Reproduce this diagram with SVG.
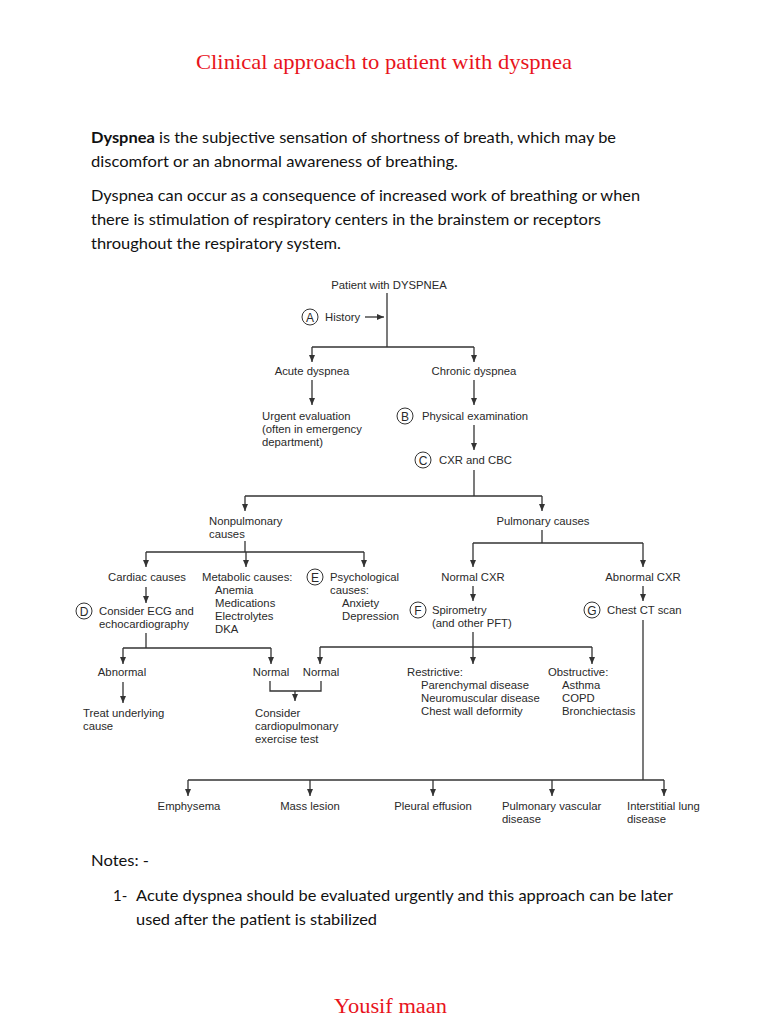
<svg xmlns="http://www.w3.org/2000/svg" width="768" height="1024" viewBox="0 0 768 1024">
<defs>
<marker id="ah" markerUnits="userSpaceOnUse" markerWidth="7" markerHeight="6" refX="7" refY="3" orient="auto">
<path d="M0,0 L7,3 L0,6 z" fill="#333"/>
</marker>
<style>
.t{font-family:"Liberation Sans",Arial,sans-serif;font-size:11.3px;fill:#2a2a2a}
.m{text-anchor:middle}
.ln{fill:none;stroke:#333;stroke-width:1.3}
.ar{fill:none;stroke:#333;stroke-width:1.3;marker-end:url(#ah)}
.cc{fill:none;stroke:#333;stroke-width:1}
.cl{font-family:"Liberation Sans",Arial,sans-serif;font-size:12px;fill:#2a2a2a;text-anchor:middle}
.body{font-family:Lato,"Liberation Sans",sans-serif;font-size:15px;fill:#111}
.red{font-family:"Liberation Serif","Times New Roman",serif;fill:#e8141c}
</style>
</defs>
<rect width="768" height="1024" fill="#fff"/>

<g id="title">
<text class="red" x="196" y="69" font-size="21" textLength="376" lengthAdjust="spacingAndGlyphs">Clinical approach to patient with dyspnea</text>
</g>

<g id="intro">
<text class="body" x="91" y="143" textLength="525" lengthAdjust="spacingAndGlyphs"><tspan font-weight="bold">Dyspnea</tspan> is the subjective sensation of shortness of breath, which may be</text>
<text class="body" x="91" y="167" textLength="367" lengthAdjust="spacingAndGlyphs">discomfort or an abnormal awareness of breathing.</text>
<text class="body" x="91" y="201" textLength="549" lengthAdjust="spacingAndGlyphs">Dyspnea can occur as a consequence of increased work of breathing or when</text>
<text class="body" x="91" y="225" textLength="510" lengthAdjust="spacingAndGlyphs">there is stimulation of respiratory centers in the brainstem or receptors</text>
<text class="body" x="91" y="249" textLength="250" lengthAdjust="spacingAndGlyphs">throughout the respiratory system.</text>
</g>

<g id="connectors">
<path class="ln" d="M387,293 V347"/>
<path class="ar" d="M365,317 H384"/>
<path class="ln" d="M312,347 H474"/>
<path class="ar" d="M312,347 V362"/>
<path class="ar" d="M474,347 V362"/>
<path class="ar" d="M312,380 V405"/>
<path class="ar" d="M474,380 V405"/>
<path class="ar" d="M474,425 V450"/>
<path class="ln" d="M474,470 V496"/>
<path class="ln" d="M245,496 H542"/>
<path class="ar" d="M245,496 V511"/>
<path class="ar" d="M542,496 V511"/>
<path class="ln" d="M245,541 V552"/>
<path class="ln" d="M146,552 H364"/>
<path class="ar" d="M146,552 V567"/>
<path class="ar" d="M246,552 V567"/>
<path class="ar" d="M364,552 V567"/>
<path class="ar" d="M146,587 V603"/>
<path class="ln" d="M146,633 V648"/>
<path class="ln" d="M123,648 H271"/>
<path class="ar" d="M123,648 V664"/>
<path class="ar" d="M271,648 V664"/>
<path class="ar" d="M123,682 V703"/>
<path class="ln" d="M270,681 V691 H321 V681"/>
<path class="ar" d="M295,691 V701"/>
<path class="ln" d="M542,530 V543"/>
<path class="ln" d="M473,543 H643"/>
<path class="ar" d="M473,543 V567"/>
<path class="ar" d="M643,543 V567"/>
<path class="ar" d="M473,586 V601"/>
<path class="ar" d="M643,586 V601"/>
<path class="ln" d="M473,632 V647"/>
<path class="ln" d="M320,647 H592"/>
<path class="ar" d="M320,647 V664"/>
<path class="ar" d="M473,647 V664"/>
<path class="ar" d="M592,647 V664"/>
<path class="ln" d="M643,620 V780"/>
<path class="ln" d="M188,780 H664"/>
<path class="ar" d="M188,780 V796"/>
<path class="ar" d="M310,780 V796"/>
<path class="ar" d="M433,780 V796"/>
<path class="ar" d="M552,780 V796"/>
<path class="ar" d="M664,780 V796"/>
</g>

<g id="patient"><text class="t m" x="389" y="289">Patient with DYSPNEA</text></g>
<g id="history">
<circle class="cc" cx="310" cy="317" r="8"/><text class="cl" x="310" y="321.5">A</text>
<text class="t" x="325" y="321">History</text>
</g>
<g id="acute"><text class="t m" x="312" y="375">Acute dyspnea</text></g>
<g id="chronic"><text class="t m" x="474" y="375">Chronic dyspnea</text></g>
<g id="urgent">
<text class="t" x="262" y="420">Urgent evaluation</text>
<text class="t" x="262" y="433">(often in emergency</text>
<text class="t" x="262" y="446">department)</text>
</g>
<g id="physical">
<circle class="cc" cx="405" cy="416" r="8"/><text class="cl" x="405" y="420.5">B</text>
<text class="t" x="422" y="420">Physical examination</text>
</g>
<g id="cxrcbc">
<circle class="cc" cx="423" cy="460" r="8"/><text class="cl" x="423" y="464.5">C</text>
<text class="t" x="439" y="464">CXR and CBC</text>
</g>
<g id="nonpulmonary">
<text class="t" x="209" y="525">Nonpulmonary</text>
<text class="t" x="209" y="538">causes</text>
</g>
<g id="pulmonary"><text class="t m" x="543" y="525">Pulmonary causes</text></g>
<g id="cardiac"><text class="t m" x="147" y="581">Cardiac causes</text></g>
<g id="metabolic">
<text class="t" x="202" y="581">Metabolic causes:</text>
<text class="t" x="215" y="594">Anemia</text>
<text class="t" x="215" y="607">Medications</text>
<text class="t" x="215" y="620">Electrolytes</text>
<text class="t" x="215" y="633">DKA</text>
</g>
<g id="psychological">
<circle class="cc" cx="315" cy="577" r="8"/><text class="cl" x="315" y="581.5">E</text>
<text class="t" x="330" y="581">Psychological</text>
<text class="t" x="330" y="594">causes:</text>
<text class="t" x="342" y="607">Anxiety</text>
<text class="t" x="342" y="620">Depression</text>
</g>
<g id="ecg">
<circle class="cc" cx="84" cy="611" r="8"/><text class="cl" x="84" y="615.5">D</text>
<text class="t" x="99" y="615">Consider ECG and</text>
<text class="t" x="99" y="628">echocardiography</text>
</g>
<g id="abnormal"><text class="t m" x="122" y="676">Abnormal</text></g>
<g id="normal1"><text class="t m" x="271" y="676">Normal</text></g>
<g id="normal2"><text class="t m" x="321" y="676">Normal</text></g>
<g id="treat">
<text class="t" x="83" y="717">Treat underlying</text>
<text class="t" x="83" y="730">cause</text>
</g>
<g id="exercise">
<text class="t" x="255" y="717">Consider</text>
<text class="t" x="255" y="730">cardiopulmonary</text>
<text class="t" x="255" y="743">exercise test</text>
</g>
<g id="normalcxr"><text class="t m" x="473" y="581">Normal CXR</text></g>
<g id="abnormalcxr"><text class="t m" x="643" y="581">Abnormal CXR</text></g>
<g id="spirometry">
<circle class="cc" cx="418" cy="610" r="8"/><text class="cl" x="418" y="614.5">F</text>
<text class="t" x="432" y="614">Spirometry</text>
<text class="t" x="432" y="627">(and other PFT)</text>
</g>
<g id="chestct">
<circle class="cc" cx="592" cy="610" r="8"/><text class="cl" x="592" y="614.5">G</text>
<text class="t" x="607" y="614">Chest CT scan</text>
</g>
<g id="restrictive">
<text class="t" x="407" y="676">Restrictive:</text>
<text class="t" x="421" y="689">Parenchymal disease</text>
<text class="t" x="421" y="702">Neuromuscular disease</text>
<text class="t" x="421" y="715">Chest wall deformity</text>
</g>
<g id="obstructive">
<text class="t" x="548" y="676">Obstructive:</text>
<text class="t" x="562" y="689">Asthma</text>
<text class="t" x="562" y="702">COPD</text>
<text class="t" x="562" y="715">Bronchiectasis</text>
</g>
<g id="emphysema"><text class="t m" x="189" y="810">Emphysema</text></g>
<g id="mass"><text class="t m" x="310" y="810">Mass lesion</text></g>
<g id="pleural"><text class="t m" x="433" y="810">Pleural effusion</text></g>
<g id="vascular">
<text class="t" x="502" y="810">Pulmonary vascular</text>
<text class="t" x="502" y="823">disease</text>
</g>
<g id="interstitial">
<text class="t" x="627" y="810">Interstitial lung</text>
<text class="t" x="627" y="823">disease</text>
</g>

<g id="notes">
<text class="body" x="91" y="866" textLength="58" lengthAdjust="spacingAndGlyphs">Notes: -</text>
<text class="body" x="113" y="901">1-</text>
<text class="body" x="136" y="901" textLength="537" lengthAdjust="spacingAndGlyphs">Acute dyspnea should be evaluated urgently and this approach can be later</text>
<text class="body" x="136" y="925" textLength="241" lengthAdjust="spacingAndGlyphs">used after the patient is stabilized</text>
</g>

<g id="author">
<text class="red" x="334" y="1013" font-size="20" textLength="113" lengthAdjust="spacingAndGlyphs">Yousif maan</text>
</g>
</svg>
